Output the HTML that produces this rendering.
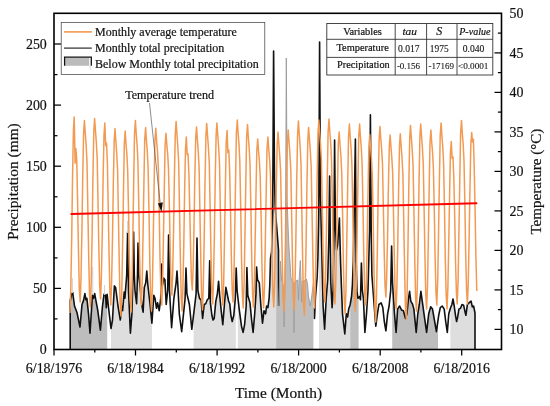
<!DOCTYPE html>
<html><head><meta charset="utf-8"><title>Chart</title>
<style>html,body{margin:0;padding:0;background:#fff}body{width:550px;height:406px;position:relative;overflow:hidden}</style></head>
<body>
<svg width="550" height="406" viewBox="0 0 550 406" style="position:absolute;left:0;top:0">
<defs><clipPath id="cp"><path d="M70.2,301.0 L71.5,294.5 L72.7,292.5 L74.5,306.0 L76.9,312.2 L80.0,327.0 L82.0,304.5 L83.5,300.6 L84.9,293.6 L85.9,299.8 L86.9,298.3 L88.5,313.8 L90.0,333.2 L92.4,295.2 L93.6,298.3 L94.7,293.6 L95.8,299.8 L97.8,310.7 L100.4,330.1 L102.5,306.0 L104.0,294.4 L105.6,295.2 L106.3,307.6 L107.1,294.4 L108.7,309.1 L111.0,328.5 L112.5,320.0 L114.4,285.9 L115.6,287.4 L118.0,306.0 L120.3,320.0 L121.8,306.0 L122.6,310.7 L124.2,292.1 L124.9,298.3 L126.7,275.0 L127.6,232.0 L128.5,290.5 L130.4,333.2 L131.9,313.8 L133.0,275.0 L133.6,232.0 L134.3,275.0 L135.0,290.5 L136.6,303.7 L137.5,275.0 L138.0,243.0 L138.8,275.0 L140.5,290.5 L142.0,306.0 L143.1,312.2 L144.3,287.4 L145.7,283.0 L146.8,271.0 L147.8,284.3 L149.9,302.9 L151.9,323.1 L153.8,295.2 L155.0,298.3 L156.5,308.3 L157.6,302.9 L159.2,310.7 L160.7,298.3 L161.6,264.0 L162.5,285.0 L163.8,278.1 L164.9,279.7 L166.2,304.5 L167.7,290.5 L168.6,235.0 L169.5,290.5 L171.6,327.7 L173.9,298.3 L176.1,282.8 L177.0,271.0 L177.8,284.3 L179.3,313.8 L181.7,331.6 L185.1,298.3 L186.0,268.0 L186.9,293.6 L189.4,304.5 L191.8,329.3 L194.1,310.7 L196.1,293.6 L197.0,238.0 L197.9,290.5 L199.5,298.3 L201.1,299.8 L202.6,318.4 L204.2,304.5 L205.7,303.7 L207.3,299.8 L208.8,298.3 L209.7,260.8 L210.4,302.9 L211.9,315.3 L213.0,320.0 L214.2,318.4 L215.8,301.4 L217.4,293.6 L218.6,281.2 L219.7,295.2 L221.2,310.7 L222.8,324.6 L224.3,306.0 L225.9,287.4 L227.3,294.5 L228.6,301.0 L229.8,304.0 L230.9,315.3 L232.2,321.5 L233.8,315.3 L235.3,298.3 L236.2,268.0 L237.1,290.5 L239.2,309.1 L241.5,326.2 L243.1,332.4 L244.6,324.6 L246.2,306.0 L246.9,267.6 L247.8,295.2 L250.0,302.9 L251.6,320.0 L253.1,332.4 L254.7,313.8 L256.0,293.6 L256.6,267.0 L257.5,279.7 L259.3,282.8 L260.9,306.0 L262.5,323.1 L264.0,310.7 L265.6,313.8 L266.6,306.0 L267.9,307.6 L269.1,298.3 L269.8,285.0 L270.5,258.5 L271.6,252.0 L272.7,212.0 L273.6,51.0 L274.5,178.0 L275.2,205.0 L276.3,222.0 L277.4,236.0 L278.5,250.0 L278.6,306.0 L279.5,283.0 L280.5,261.0 L281.6,280.0 L283.3,285.0 L284.1,327.0 L284.9,282.0 L285.6,200.0 L286.3,58.0 L287.2,200.0 L288.0,225.0 L289.0,248.0 L290.0,262.0 L291.0,278.0 L292.4,281.0 L293.3,283.0 L294.0,332.6 L294.8,283.0 L296.0,281.0 L297.8,280.0 L298.5,300.0 L299.2,279.0 L300.3,260.5 L301.0,280.0 L301.6,302.0 L302.3,281.0 L304.0,281.0 L305.5,280.0 L306.5,279.0 L307.5,284.0 L308.5,296.0 L310.2,306.0 L311.5,298.0 L312.5,290.0 L313.4,283.0 L314.5,307.6 L314.5,318.4 L315.4,298.0 L316.2,288.0 L317.1,278.0 L317.9,258.0 L318.8,212.0 L319.6,42.0 L320.4,192.0 L321.3,230.0 L322.1,264.0 L323.1,306.0 L324.6,329.3 L326.2,298.3 L327.7,279.7 L328.8,240.0 L329.6,176.0 L330.3,240.0 L330.8,282.8 L332.1,307.6 L333.1,290.5 L334.0,230.0 L334.6,140.0 L335.4,225.0 L336.5,250.0 L337.6,245.0 L339.4,218.0 L340.5,260.0 L341.3,283.0 L342.5,313.8 L344.8,333.9 L346.3,313.8 L347.6,316.9 L348.7,309.1 L350.2,304.5 L351.6,296.0 L352.4,285.0 L353.3,262.0 L354.3,205.0 L355.4,139.0 L356.2,262.0 L357.0,292.0 L358.0,298.3 L359.5,296.7 L360.5,299.8 L361.4,263.0 L362.3,290.0 L363.4,298.3 L364.9,332.4 L366.5,313.8 L368.0,290.5 L369.6,230.0 L370.4,114.8 L371.2,230.0 L371.9,275.0 L374.2,306.0 L375.8,326.2 L377.4,313.8 L378.9,304.5 L381.2,302.9 L382.8,307.6 L384.3,321.5 L385.9,330.8 L387.6,313.8 L389.1,306.0 L390.7,290.5 L391.6,246.0 L392.5,282.8 L394.5,313.8 L396.1,332.4 L397.6,309.1 L399.6,306.0 L401.5,309.9 L403.4,310.7 L405.4,318.4 L406.9,313.8 L408.5,298.3 L409.6,291.3 L410.8,301.4 L412.4,303.7 L413.9,309.1 L416.2,332.4 L417.8,313.8 L419.3,304.5 L420.9,291.3 L422.5,302.9 L424.0,313.8 L426.6,332.4 L428.7,313.8 L430.7,306.8 L432.5,309.1 L434.4,320.0 L436.4,331.6 L438.7,315.3 L440.3,307.6 L442.2,306.0 L444.2,309.1 L445.7,321.5 L447.3,332.4 L448.8,313.8 L450.4,308.3 L451.9,304.5 L453.0,299.0 L454.2,306.0 L455.5,315.3 L456.6,321.5 L457.7,316.9 L458.9,309.1 L460.5,308.3 L462.0,304.5 L463.6,305.2 L465.1,312.2 L465.9,315.3 L467.4,304.5 L469.0,302.9 L471.0,301.0 L472.4,307.0 L473.6,306.0 L475.0,313.0 L475,349.5 L70.2,349.5 Z"/></clipPath></defs>
<rect width="550" height="406" fill="#fff"/>
<g clip-path="url(#cp)"><rect x="70.2" y="0" width="37.0" height="360" fill="#bdbdbd"/><rect x="111.0" y="0" width="41.0" height="360" fill="#dedede"/><rect x="193.6" y="0" width="42.2" height="360" fill="#dedede"/><rect x="237.8" y="0" width="38.3" height="360" fill="#dedede"/><rect x="276.1" y="0" width="37.3" height="360" fill="#bebebe"/><rect x="319.0" y="0" width="31.2" height="360" fill="#dedede"/><rect x="350.2" y="0" width="8.4" height="360" fill="#bebebe"/><rect x="392.2" y="0" width="45.8" height="360" fill="#bdbdbd"/><rect x="450.4" y="0" width="24.6" height="360" fill="#dedede"/></g>
<path d="M70.2,349.5 L70.2,301.0 L71.5,294.5 L72.7,292.5 L74.5,306.0 L76.9,312.2 L80.0,327.0 L82.0,304.5 L83.5,300.6 L84.9,293.6 L85.9,299.8 L86.9,298.3 L88.5,313.8 L90.0,333.2 L92.4,295.2 L93.6,298.3 L94.7,293.6 L95.8,299.8 L97.8,310.7 L100.4,330.1 L102.5,306.0 L104.0,294.4 L105.6,295.2 L106.3,307.6 L107.1,294.4 L108.7,309.1 L111.0,328.5 L112.5,320.0 L114.4,285.9 L115.6,287.4 L118.0,306.0 L120.3,320.0 L121.8,306.0 L122.6,310.7 L124.2,292.1 L124.9,298.3 L126.7,275.0 L127.6,232.0 L128.5,290.5 L130.4,333.2 L131.9,313.8 L133.0,275.0 L133.6,232.0 L134.3,275.0 L135.0,290.5 L136.6,303.7 L137.5,275.0 L138.0,243.0 L138.8,275.0 L140.5,290.5 L142.0,306.0 L143.1,312.2 L144.3,287.4 L145.7,283.0 L146.8,271.0 L147.8,284.3 L149.9,302.9 L151.9,323.1 L153.8,295.2 L155.0,298.3 L156.5,308.3 L157.6,302.9 L159.2,310.7 L160.7,298.3 L161.6,264.0 L162.5,285.0 L163.8,278.1 L164.9,279.7 L166.2,304.5 L167.7,290.5 L168.6,235.0 L169.5,290.5 L171.6,327.7 L173.9,298.3 L176.1,282.8 L177.0,271.0 L177.8,284.3 L179.3,313.8 L181.7,331.6 L185.1,298.3 L186.0,268.0 L186.9,293.6 L189.4,304.5 L191.8,329.3 L194.1,310.7 L196.1,293.6 L197.0,238.0 L197.9,290.5 L199.5,298.3 L201.1,299.8 L202.6,318.4 L204.2,304.5 L205.7,303.7 L207.3,299.8 L208.8,298.3 L209.7,260.8 L210.4,302.9 L211.9,315.3 L213.0,320.0 L214.2,318.4 L215.8,301.4 L217.4,293.6 L218.6,281.2 L219.7,295.2 L221.2,310.7 L222.8,324.6 L224.3,306.0 L225.9,287.4 L227.3,294.5 L228.6,301.0 L229.8,304.0 L230.9,315.3 L232.2,321.5 L233.8,315.3 L235.3,298.3 L236.2,268.0 L237.1,290.5 L239.2,309.1 L241.5,326.2 L243.1,332.4 L244.6,324.6 L246.2,306.0 L246.9,267.6 L247.8,295.2 L250.0,302.9 L251.6,320.0 L253.1,332.4 L254.7,313.8 L256.0,293.6 L256.6,267.0 L257.5,279.7 L259.3,282.8 L260.9,306.0 L262.5,323.1 L264.0,310.7 L265.6,313.8 L266.6,306.0 L267.9,307.6 L269.1,298.3 L269.8,285.0 L270.5,258.5 L271.6,252.0 L272.7,212.0 L273.6,51.0 L274.5,178.0 L275.2,205.0 L276.3,222.0 L277.4,236.0 L278.5,250.0 L278.6,306.0" fill="none" stroke="#111" stroke-width="1.6" stroke-linejoin="round"/>
<path d="M314.5,307.6 L314.5,318.4 L315.4,298.0 L316.2,288.0 L317.1,278.0 L317.9,258.0 L318.8,212.0 L319.6,42.0 L320.4,192.0 L321.3,230.0 L322.1,264.0 L323.1,306.0 L324.6,329.3 L326.2,298.3 L327.7,279.7 L328.8,240.0 L329.6,176.0 L330.3,240.0 L330.8,282.8 L332.1,307.6 L333.1,290.5 L334.0,230.0 L334.6,140.0 L335.4,225.0 L336.5,250.0 L337.6,245.0 L339.4,218.0 L340.5,260.0 L341.3,283.0 L342.5,313.8 L344.8,333.9 L346.3,313.8 L347.6,316.9 L348.7,309.1 L350.2,304.5 L351.6,296.0 L352.4,285.0 L353.3,262.0 L354.3,205.0 L355.4,139.0 L356.2,262.0 L357.0,292.0 L358.0,298.3 L359.5,296.7 L360.5,299.8 L361.4,263.0 L362.3,290.0 L363.4,298.3 L364.9,332.4 L366.5,313.8 L368.0,290.5 L369.6,230.0 L370.4,114.8 L371.2,230.0 L371.9,275.0 L374.2,306.0 L375.8,326.2 L377.4,313.8 L378.9,304.5 L381.2,302.9 L382.8,307.6 L384.3,321.5 L385.9,330.8 L387.6,313.8 L389.1,306.0 L390.7,290.5 L391.6,246.0 L392.5,282.8 L394.5,313.8 L396.1,332.4 L397.6,309.1 L399.6,306.0 L401.5,309.9 L403.4,310.7 L405.4,318.4 L406.9,313.8 L408.5,298.3 L409.6,291.3 L410.8,301.4 L412.4,303.7 L413.9,309.1 L416.2,332.4 L417.8,313.8 L419.3,304.5 L420.9,291.3 L422.5,302.9 L424.0,313.8 L426.6,332.4 L428.7,313.8 L430.7,306.8 L432.5,309.1 L434.4,320.0 L436.4,331.6 L438.7,315.3 L440.3,307.6 L442.2,306.0 L444.2,309.1 L445.7,321.5 L447.3,332.4 L448.8,313.8 L450.4,308.3 L451.9,304.5 L453.0,299.0 L454.2,306.0 L455.5,315.3 L456.6,321.5 L457.7,316.9 L458.9,309.1 L460.5,308.3 L462.0,304.5 L463.6,305.2 L465.1,312.2 L465.9,315.3 L467.4,304.5 L469.0,302.9 L471.0,301.0 L472.4,307.0 L473.6,306.0 L475.0,313.0 L475.0,349.5" fill="none" stroke="#111" stroke-width="1.6" stroke-linejoin="round"/>
<path d="M278.6,306.0 L279.5,283.0 L280.5,261.0 L281.6,280.0 L283.3,285.0 L284.1,327.0 L284.9,282.0 L285.6,200.0 L286.3,58.0 L287.2,200.0 L288.0,225.0 L289.0,248.0 L290.0,262.0 L291.0,278.0 L292.4,281.0 L293.3,283.0 L294.0,332.6 L294.8,283.0 L296.0,281.0 L297.8,280.0 L298.5,300.0 L299.2,279.0 L300.3,260.5 L301.0,280.0 L301.6,302.0 L302.3,281.0 L304.0,281.0 L305.5,280.0 L306.5,279.0 L307.5,284.0 L308.5,296.0 L310.2,306.0 L311.5,298.0 L312.5,290.0 L313.4,283.0 L314.5,307.6" fill="none" stroke="#9a9a9a" stroke-width="0.9" stroke-linejoin="round"/>
<path d="M127.6,221 V233 M72.4,278 V293 M92.7,267 V294 M104.5,285 V295" stroke="#d4d4d4" stroke-width="1.1" fill="none"/>
<path d="M70.0,313.0 L70.8,287.5 L71.7,238.5 L72.5,179.7 L73.4,130.7 L74.2,117.0 L75.1,163.2 L75.9,148.5 L76.8,161.4 L77.6,202.1 L78.5,252.1 L79.3,289.1 L80.2,302.0 L81.0,278.4 L81.9,233.1 L82.7,178.6 L83.6,133.3 L84.4,120.6 L85.3,133.6 L86.1,144.8 L87.0,161.6 L87.8,206.3 L88.7,256.7 L89.5,294.0 L90.4,307.0 L91.2,282.5 L92.1,235.4 L92.9,178.9 L93.8,131.8 L94.6,118.6 L95.5,131.2 L96.3,142.1 L97.2,158.3 L98.0,201.6 L98.9,250.3 L99.7,286.4 L100.6,299.0 L101.4,276.1 L102.3,232.1 L103.1,179.3 L104.0,135.3 L104.8,123.0 L105.7,145.8 L106.5,143.0 L107.4,163.0 L108.2,206.7 L109.1,255.9 L109.9,292.3 L110.8,305.0 L111.6,282.1 L112.5,238.0 L113.3,185.0 L114.2,140.9 L115.0,128.6 L115.9,141.7 L116.7,153.0 L117.6,169.8 L118.4,214.8 L119.3,265.4 L120.1,302.9 L120.9,316.0 L121.8,291.9 L122.6,245.7 L123.5,190.2 L124.3,143.9 L125.2,131.0 L126.0,143.7 L126.9,154.5 L127.7,170.8 L128.6,214.3 L129.4,263.1 L130.3,299.3 L131.1,312.0 L132.0,287.1 L132.8,239.3 L133.7,181.8 L134.5,134.0 L135.4,120.6 L136.2,133.5 L137.1,144.6 L137.9,161.2 L138.8,205.4 L139.6,255.2 L140.5,292.1 L141.3,305.0 L142.2,281.9 L143.0,237.6 L143.9,184.4 L144.7,140.0 L145.6,127.6 L146.4,140.4 L147.3,151.4 L148.1,167.9 L149.0,212.0 L149.8,261.5 L150.7,298.2 L151.5,311.0 L152.4,287.2 L153.2,241.5 L154.1,186.7 L154.9,141.0 L155.8,128.2 L156.6,140.6 L157.5,151.2 L158.3,167.1 L159.2,209.5 L160.0,257.3 L160.9,292.6 L161.7,305.0 L162.6,282.7 L163.4,239.8 L164.3,188.2 L165.1,145.3 L166.0,133.3 L166.8,144.6 L167.7,154.3 L168.5,168.9 L169.4,207.7 L170.2,251.3 L171.1,283.7 L171.9,295.0 L172.7,272.5 L173.6,229.1 L174.4,177.1 L175.3,133.7 L176.1,121.6 L177.0,134.9 L177.8,146.2 L178.7,163.3 L179.5,208.7 L180.4,259.9 L181.2,297.7 L182.1,311.0 L182.9,288.4 L183.8,244.9 L184.6,192.7 L185.5,149.2 L186.3,137.0 L187.2,154.6 L188.0,153.8 L188.9,173.7 L189.7,207.4 L190.6,248.7 L191.4,279.3 L192.3,290.0 L193.1,268.8 L194.0,228.1 L194.8,179.2 L195.7,138.4 L196.5,127.0 L197.4,139.8 L198.2,150.8 L199.1,167.3 L199.9,211.2 L200.8,260.6 L201.6,297.2 L202.5,310.0 L203.3,285.8 L204.2,239.2 L205.0,183.2 L205.9,136.6 L206.7,123.6 L207.6,136.2 L208.4,147.1 L209.3,163.3 L210.1,206.6 L211.0,255.3 L211.8,291.4 L212.7,304.0 L213.5,280.5 L214.4,235.2 L215.2,180.9 L216.1,135.7 L216.9,123.0 L217.8,135.7 L218.6,146.7 L219.5,163.0 L220.3,206.7 L221.2,255.9 L222.0,292.3 L222.8,305.0 L223.7,282.3 L224.5,238.7 L225.4,186.3 L226.2,142.6 L227.1,130.4 L227.9,152.7 L228.8,150.1 L229.6,169.9 L230.5,209.3 L231.3,255.7 L232.2,290.0 L233.0,302.0 L233.9,278.3 L234.7,232.8 L235.6,178.2 L236.4,132.7 L237.3,120.0 L238.1,133.2 L239.0,144.4 L239.8,161.4 L240.7,206.5 L241.5,257.2 L242.4,294.8 L243.2,308.0 L244.1,284.1 L244.9,238.2 L245.8,183.2 L246.6,137.3 L247.5,124.4 L248.3,137.2 L249.2,148.1 L250.0,164.6 L250.9,208.4 L251.7,257.7 L252.6,294.2 L253.4,307.0 L254.3,285.2 L255.1,243.2 L256.0,192.8 L256.8,150.8 L257.7,139.0 L258.5,150.8 L259.4,161.0 L260.2,176.2 L261.1,216.7 L261.9,262.4 L262.8,296.2 L263.6,308.0 L264.5,285.8 L265.3,243.0 L266.2,191.7 L267.0,149.0 L267.9,137.0 L268.7,148.9 L269.6,159.1 L270.4,174.4 L271.3,215.2 L272.1,261.1 L273.0,295.1 L273.8,307.0 L274.6,284.2 L275.5,240.5 L276.3,188.0 L277.2,144.2 L278.0,132.0 L278.9,144.5 L279.7,155.3 L280.6,171.4 L281.4,214.3 L282.3,262.7 L283.1,298.5 L284.0,311.0 L284.8,287.5 L285.7,242.2 L286.5,187.9 L287.4,142.7 L288.2,130.0 L289.1,142.6 L289.9,153.4 L290.8,169.6 L291.6,212.8 L292.5,261.4 L293.3,297.4 L294.2,310.0 L295.0,285.4 L295.9,238.2 L296.7,181.5 L297.6,134.2 L298.4,121.0 L299.3,134.6 L300.1,146.2 L301.0,163.7 L301.8,210.2 L302.7,262.6 L303.5,301.4 L304.4,315.0 L305.2,290.6 L306.1,243.7 L306.9,187.4 L307.8,140.5 L308.6,127.4 L309.5,140.0 L310.3,150.9 L311.2,167.1 L312.0,210.5 L312.9,259.2 L313.7,295.4 L314.6,308.0 L315.4,283.6 L316.3,236.6 L317.1,180.2 L318.0,133.2 L318.8,120.0 L319.7,132.7 L320.5,143.7 L321.4,160.0 L322.2,203.7 L323.1,252.9 L323.9,289.3 L324.8,302.0 L325.6,278.2 L326.4,232.5 L327.3,177.6 L328.1,131.8 L329.0,119.0 L329.8,131.9 L330.7,143.1 L331.5,159.7 L332.4,204.1 L333.2,254.1 L334.1,291.1 L334.9,304.0 L335.8,281.6 L336.6,238.6 L337.5,187.0 L338.3,144.0 L339.2,132.0 L340.0,144.7 L340.9,155.7 L341.7,172.0 L342.6,215.7 L343.4,264.9 L344.3,301.3 L345.1,314.0 L346.0,289.3 L346.8,241.8 L347.7,184.8 L348.5,137.3 L349.4,124.0 L350.2,137.1 L351.1,148.3 L351.9,165.1 L352.8,210.0 L353.6,260.5 L354.5,297.9 L355.3,311.0 L356.2,286.7 L357.0,239.9 L357.9,183.8 L358.7,137.1 L359.6,124.0 L360.4,136.7 L361.3,147.5 L362.1,163.8 L363.0,207.3 L363.8,256.1 L364.7,292.3 L365.5,305.0 L366.4,282.8 L367.2,240.2 L368.1,189.1 L368.9,146.4 L369.8,134.5 L370.6,147.6 L371.5,158.9 L372.3,175.8 L373.2,220.8 L374.0,271.4 L374.9,308.9 L375.7,322.0 L376.5,296.6 L377.4,247.7 L378.2,189.1 L379.1,140.3 L379.9,126.6 L380.8,138.5 L381.6,148.8 L382.5,164.1 L383.3,205.0 L384.2,251.0 L385.0,285.1 L385.9,297.0 L386.7,275.9 L387.6,235.4 L388.4,186.8 L389.3,146.3 L390.1,135.0 L391.0,147.2 L391.8,157.6 L392.7,173.3 L393.5,215.0 L394.4,262.0 L395.2,296.8 L396.1,309.0 L396.9,286.2 L397.8,242.4 L398.6,189.8 L399.5,146.0 L400.3,133.7 L401.2,146.7 L402.0,157.8 L402.9,174.5 L403.7,218.9 L404.6,269.0 L405.4,306.0 L406.3,319.0 L407.1,293.8 L408.0,245.4 L408.8,187.4 L409.7,139.0 L410.5,125.4 L411.4,138.4 L412.2,149.5 L413.1,166.2 L413.9,210.8 L414.8,260.9 L415.6,298.0 L416.5,311.0 L417.3,286.7 L418.2,239.9 L419.0,183.8 L419.9,137.0 L420.7,123.9 L421.6,136.9 L422.4,148.0 L423.3,164.6 L424.1,209.0 L425.0,259.0 L425.8,296.0 L426.6,309.0 L427.5,285.7 L428.3,241.0 L429.2,187.3 L430.0,142.5 L430.9,130.0 L431.7,142.2 L432.6,152.8 L433.4,168.5 L434.3,210.5 L435.1,257.8 L436.0,292.8 L436.8,305.0 L437.7,281.3 L438.5,235.8 L439.4,181.2 L440.2,135.6 L441.1,122.9 L441.9,135.9 L442.8,147.1 L443.6,163.8 L444.5,208.5 L445.3,258.8 L446.2,296.0 L447.0,309.0 L447.9,287.2 L448.7,245.3 L449.6,195.0 L450.4,153.1 L451.3,141.4 L452.1,158.5 L453.0,156.8 L453.8,177.2 L454.7,216.2 L455.5,260.1 L456.4,292.6 L457.2,304.0 L458.1,280.1 L458.9,234.2 L459.8,179.2 L460.6,133.3 L461.5,120.4 L462.3,133.3 L463.2,144.3 L464.0,160.8 L464.9,204.9 L465.7,254.4 L466.6,291.1 L467.4,304.0 L468.3,281.7 L469.1,238.8 L470.0,187.4 L470.8,144.5 L471.7,132.5 L472.5,141.9 L473.4,139.3 L474.2,166.6 L475.1,210.9 L475.9,257.0 L476.8,291.1" fill="none" stroke="#f29a52" stroke-width="1.5" stroke-linejoin="round"/>
<line x1="71.3" y1="214" x2="476.5" y2="203.2" stroke="#ff0000" stroke-width="1.9" stroke-linecap="round"/>
<line x1="149.5" y1="103" x2="160.3" y2="204" stroke="#5a5a5a" stroke-width="0.7"/>
<polygon points="161.5,211.9 157.9,203.4 162.8,202.3" fill="#111"/>
<g stroke="#000" stroke-width="1.6" fill="none">
<rect x="54.0" y="13.3" width="447.5" height="336.2"/>
</g>
<g stroke="#000" stroke-width="1.25">
<line x1="54.0" y1="318.9" x2="57.5" y2="318.9"/>
<line x1="54.0" y1="288.4" x2="61.0" y2="288.4"/>
<line x1="54.0" y1="257.9" x2="57.5" y2="257.9"/>
<line x1="54.0" y1="227.3" x2="61.0" y2="227.3"/>
<line x1="54.0" y1="196.8" x2="57.5" y2="196.8"/>
<line x1="54.0" y1="166.2" x2="61.0" y2="166.2"/>
<line x1="54.0" y1="135.7" x2="57.5" y2="135.7"/>
<line x1="54.0" y1="105.1" x2="61.0" y2="105.1"/>
<line x1="54.0" y1="74.6" x2="57.5" y2="74.6"/>
<line x1="54.0" y1="44.0" x2="61.0" y2="44.0"/>
<line x1="501.5" y1="329.4" x2="494.5" y2="329.4"/>
<line x1="501.5" y1="309.6" x2="497.9" y2="309.6"/>
<line x1="501.5" y1="289.9" x2="494.5" y2="289.9"/>
<line x1="501.5" y1="270.1" x2="497.9" y2="270.1"/>
<line x1="501.5" y1="250.4" x2="494.5" y2="250.4"/>
<line x1="501.5" y1="230.6" x2="497.9" y2="230.6"/>
<line x1="501.5" y1="210.9" x2="494.5" y2="210.9"/>
<line x1="501.5" y1="191.1" x2="497.9" y2="191.1"/>
<line x1="501.5" y1="171.4" x2="494.5" y2="171.4"/>
<line x1="501.5" y1="151.6" x2="497.9" y2="151.6"/>
<line x1="501.5" y1="131.9" x2="494.5" y2="131.9"/>
<line x1="501.5" y1="112.1" x2="497.9" y2="112.1"/>
<line x1="501.5" y1="92.4" x2="494.5" y2="92.4"/>
<line x1="501.5" y1="72.6" x2="497.9" y2="72.6"/>
<line x1="501.5" y1="52.9" x2="494.5" y2="52.9"/>
<line x1="501.5" y1="33.1" x2="497.9" y2="33.1"/>
<line x1="54.0" y1="349.5" x2="54.0" y2="355.5"/>
<line x1="94.8" y1="349.5" x2="94.8" y2="352.5"/>
<line x1="135.5" y1="349.5" x2="135.5" y2="355.5"/>
<line x1="176.3" y1="349.5" x2="176.3" y2="352.5"/>
<line x1="217.1" y1="349.5" x2="217.1" y2="355.5"/>
<line x1="257.9" y1="349.5" x2="257.9" y2="352.5"/>
<line x1="298.6" y1="349.5" x2="298.6" y2="355.5"/>
<line x1="339.4" y1="349.5" x2="339.4" y2="352.5"/>
<line x1="380.2" y1="349.5" x2="380.2" y2="355.5"/>
<line x1="420.9" y1="349.5" x2="420.9" y2="352.5"/>
<line x1="461.7" y1="349.5" x2="461.7" y2="355.5"/>
</g>
<g font-family="Liberation Serif, Times New Roman, serif" stroke="#111" stroke-width="0.2" paint-order="stroke" font-size="13.9" fill="#111">
<text x="46.8" y="354.1" text-anchor="end">0</text>
<text x="46.8" y="293.0" text-anchor="end">50</text>
<text x="46.8" y="231.9" text-anchor="end">100</text>
<text x="46.8" y="170.8" text-anchor="end">150</text>
<text x="46.8" y="109.7" text-anchor="end">200</text>
<text x="46.8" y="48.6" text-anchor="end">250</text>
<text x="509.6" y="334.0">10</text>
<text x="509.6" y="294.5">15</text>
<text x="509.6" y="255.0">20</text>
<text x="509.6" y="215.5">25</text>
<text x="509.6" y="176.0">30</text>
<text x="509.6" y="136.5">35</text>
<text x="509.6" y="97.0">40</text>
<text x="509.6" y="57.5">45</text>
<text x="509.6" y="18.0">50</text>
<text x="54.0" y="372.8" text-anchor="middle">6/18/1976</text>
<text x="135.5" y="372.8" text-anchor="middle">6/18/1984</text>
<text x="217.1" y="372.8" text-anchor="middle">6/18/1992</text>
<text x="298.6" y="372.8" text-anchor="middle">6/18/2000</text>
<text x="380.2" y="372.8" text-anchor="middle">6/18/2008</text>
<text x="461.7" y="372.8" text-anchor="middle">6/18/2016</text>
</g>
<g font-family="Liberation Serif, Times New Roman, serif" stroke="#111" stroke-width="0.2" paint-order="stroke" font-size="15.4" fill="#111">
<text x="278.5" y="397.7" text-anchor="middle">Time (Month)</text>
<text transform="translate(18.4,181.6) rotate(-90)" text-anchor="middle">Precipitation (mm)</text>
<text transform="translate(540.6,181.6) rotate(-90)" text-anchor="middle" font-size="15.1">Temperature (°C)</text>
</g>
<rect x="61.2" y="22.5" width="203.6" height="52" fill="#fff" stroke="#3a3a3a" stroke-width="0.7"/>
<line x1="64" y1="31.9" x2="92" y2="31.9" stroke="#f29a52" stroke-width="1.6"/>
<line x1="64" y1="48.1" x2="91.8" y2="48.1" stroke="#2a2a2a" stroke-width="1.2"/>
<rect x="65.2" y="57.6" width="24" height="8.2" fill="#bcbcbc"/>
<rect x="89.5" y="66" width="1.5" height="3.5" fill="#e2e2e2"/>
<path d="M64.6,65.8 V57.1 H91.3 V65.8" fill="none" stroke="#111" stroke-width="1.3"/>
<g font-family="Liberation Serif, Times New Roman, serif" stroke="#111" stroke-width="0.2" paint-order="stroke" font-size="12" fill="#111">
<text x="95" y="36">Monthly average temperature</text>
<text x="95" y="51.8">Monthly total precipitation</text>
<text x="95" y="68">Below Monthly total precipitation</text>
<text x="125.2" y="98.9" font-size="12.1">Temperature trend</text>
</g>
<rect x="326.8" y="23.5" width="166" height="51.5" fill="#fff" stroke="none"/>
<g stroke="#333" stroke-width="0.9" fill="none">
<rect x="326.8" y="23.5" width="166" height="51.5"/>
<path d="M326.8,39.3 H492.8 M326.8,57.4 H492.8 M395.2,23.5 V75 M426.6,23.5 V75 M457,23.5 V75"/>
</g>
<g font-family="Liberation Serif, Times New Roman, serif" stroke="#111" stroke-width="0.2" paint-order="stroke" fill="#111" text-anchor="middle">
<text x="362.5" y="35.1" font-size="10.4">Variables</text>
<text x="409.7" y="35" font-size="11.4" font-style="italic">tau</text>
<text x="439.2" y="35" font-size="12" font-style="italic">S</text>
<text x="474.8" y="35" font-size="10" font-style="italic">P-value</text>
<text x="362.6" y="50.6" font-size="10.4">Temperature</text>
<text x="408.8" y="51.8" font-size="9.6" stroke-width="0.1">0.017</text>
<text x="439.2" y="51.8" font-size="9.4" stroke-width="0.1">1975</text>
<text x="473.5" y="51.8" font-size="9.6" stroke-width="0.1">0.040</text>
<text x="363.4" y="67.7" font-size="10.3">Precipitation</text>
<text x="408.5" y="69.1" font-size="9" stroke-width="0.1">-0.156</text>
<text x="441.2" y="69.1" font-size="9" stroke-width="0.1">-17169</text>
<text x="473.2" y="69.1" font-size="9.2" stroke-width="0.1">&lt;0.0001</text>
</g>
</svg>
</body></html>
